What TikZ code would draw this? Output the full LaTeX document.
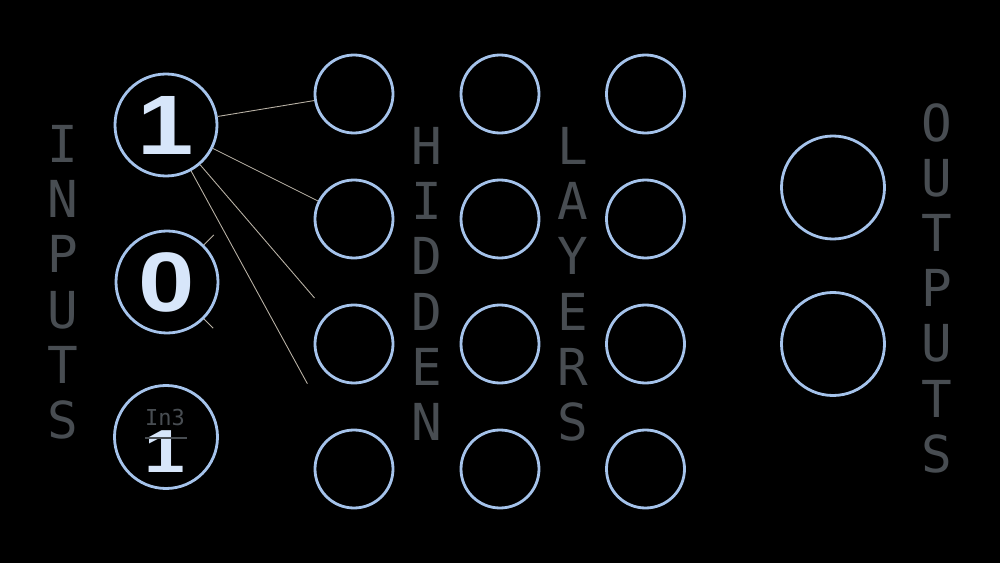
\documentclass[tikz,border=0pt]{standalone}
\usepackage{fontspec}
\usepackage{tikz}
\usetikzlibrary{calc}
\newfontfamily\digitfont{Liberation Sans}
\newfontfamily\labelfont{DejaVu Sans Mono}

\definecolor{ringblue}{RGB}{165,195,235}
\definecolor{digitwhite}{RGB}{215,230,250}
\definecolor{labelgray}{RGB}{72,77,82}
\definecolor{wiretan}{RGB}{185,178,165}

\newcommand{\fatdigit}[1]{\scalebox{1.2}[1]{#1}} %the digits are wider than Arial Bold

\tikzset{
	neuron/.style={circle,draw=ringblue,line width=1.6pt,inner sep=0pt,text=digitwhite,font=\digitfont\bfseries\fontsize{48}{48}\selectfont},
	wire/.style={wiretan,line width=0.5pt},
	vlabel/.style={labelgray,font=\labelfont\fontsize{29}{31.4}\selectfont,align=center,anchor=north,inner sep=0pt},
}

\begin{document}
\begin{tikzpicture}
	\def\w{20} %width of the frame
	\def\h{11.26} %height of the frame
	\fill[black] (0,0) rectangle (\w,-\h);
	\useasboundingbox (0,0) rectangle (\w,-\h);

	%INPUT NEURONS
	\node[neuron,minimum size=2.04cm] (in1) at (3.32,-2.5) {\fatdigit{1}};
	\node[neuron,minimum size=2.04cm] (in2) at (3.34,-5.64) {\fatdigit{0}};
	\node[neuron,minimum size=2.06cm] (in3) at (3.32,-8.74) {};
	\node[text=digitwhite,font=\digitfont\bfseries\fontsize{34.6}{34.6}\selectfont,inner sep=0pt] (in3digit) at (3.3,-9.03) {\fatdigit{1}};
	\node[labelgray,font=\labelfont\fontsize{12.5}{12.5}\selectfont,inner sep=0pt] (in3tag) at (3.3,-8.36) {In3};
	\coordinate (tagL) at (2.9,-8.76);
	\coordinate (tagR) at (3.74,-8.76);
	\draw[labelgray,line width=0.6pt] (tagL) -- (tagR);

	%HIDDEN NEURONS
	\foreach \c/\x in {1/7.08,2/10,3/12.91}
		\foreach \r in {1,...,4}
			\node[neuron,minimum size=1.56cm] (h\c\r) at (\x,{-1.88-(\r-1)*2.5}) {};

	%OUTPUT NEURONS
	\node[neuron,minimum size=2.06cm] (out1) at (16.66,-3.75) {};
	\node[neuron,minimum size=2.06cm] (out2) at (16.66,-6.88) {};

	%WIRES
	\coordinate (w3) at ($(in1)!0.79!(h13)$); %unfinished wire
	\coordinate (w4) at ($(in1)!0.752!(h14)$); %unfinished wire
	\coordinate (s1) at ($(in2)!0.25!(h11)$); %stub
	\coordinate (s2) at ($(in2)!0.247!(h14)$); %stub
	\draw[wire] (in1) -- (h11);
	\draw[wire] (in1) -- (h12);
	\draw[wire] (in1) -- (w3);
	\draw[wire] (in1) -- (w4);
	\draw[wire] (in2) -- (s1);
	\draw[wire] (in2) -- (s2);

	%LABELS
	\node[vlabel] (inputs) at (1.26,-2.5) {I\\N\\P\\U\\T\\S};
	\node[vlabel] (hidden) at (8.54,-2.54) {H\\I\\D\\D\\E\\N};
	\node[vlabel] (layers) at (11.46,-2.54) {L\\A\\Y\\E\\R\\S};
	\node[vlabel] (outputs) at (18.74,-2.06) {O\\U\\T\\P\\U\\T\\S};
\end{tikzpicture}
\end{document}
